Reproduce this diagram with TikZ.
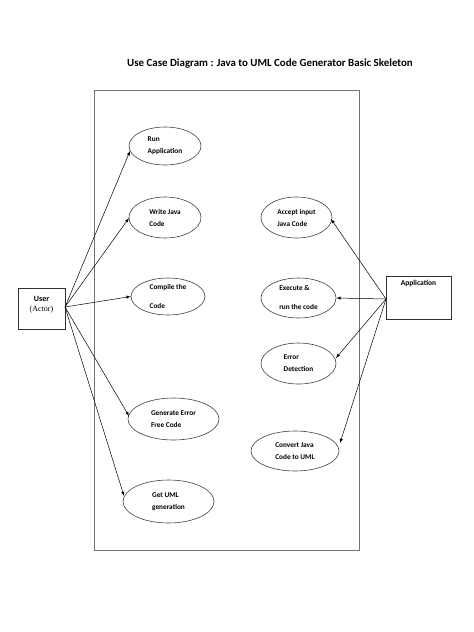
\documentclass[tikz,border=0pt]{standalone}
\usepackage{fontspec}
\setmainfont{Liberation Serif}
\newfontfamily\calfont{Carlito}
\usetikzlibrary{arrows,shapes.geometric,positioning}

\begin{document}
\begin{tikzpicture}[x=1pt,y=-1pt]

\tikzset{usecase/.style={draw=black!75, ellipse, line width=0.6pt, inner sep=0pt,
    align=left, font=\calfont\bfseries\fontsize{7.3}{12}\selectfont},
  actor/.style={draw=black!80, line width=0.8pt, inner sep=0pt},
  link/.style={-latex, line width=0.5pt}}

\useasboundingbox (0,0) rectangle (474,632);

% title and system boundary
\node (title) at (270,64) {\calfont\bfseries\fontsize{10.9}{12}\selectfont Use Case Diagram : Java to UML Code Generator Basic Skeleton};
\draw[black!55, line width=0.9pt] (94,90) rectangle (359,550);

% actors
\node[actor, minimum width=47, minimum height=41] (user) at (41.5,308.5) {};
\node[align=center, font=\fontsize{8}{10}\selectfont] at (41.5,305) {{\calfont\bfseries User}\\(Actor)};
\node[actor, minimum width=65, minimum height=43] (app) at (418.5,297.5) {};
\node[font=\calfont\bfseries\fontsize{7.5}{9}\selectfont, anchor=north] at (418.5,277) {Application};

% use cases of the user
\node[usecase, minimum width=72, minimum height=38] (run) at (165,146) {Run\\Application};
\node[usecase, minimum width=72, minimum height=41] (write) at (165,217.5) {Write Java\\Code};
\node[usecase, minimum width=74, minimum height=37] (compile) at (168,296.5) {Compile the\\[7pt]Code};
\node[usecase, minimum width=91, minimum height=42] (generate) at (173.5,419) {Generate Error\\Free Code};
\node[usecase, minimum width=91, minimum height=43] (uml) at (168.5,501.5) {Get UML\\generation};

% use cases of the application
\node[usecase, minimum width=71, minimum height=41] (accept) at (296.5,217.5) {Accept input\\Java Code};
\node[usecase, minimum width=75, minimum height=40] (execute) at (298.5,298) {Execute \&\\[7pt]run the code};
\node[usecase, minimum width=75, minimum height=41] (error) at (298.5,363.5) {Error\\Detection};
\node[usecase, minimum width=88, minimum height=40] (convert) at (295,451) {Convert Java\\Code to UML};

\coordinate (u) at (65,307);
\coordinate (a) at (386,299);

\draw[link] (u) -- (130,151);
\draw[link] (u) -- (129,218);
\draw[link] (u) -- (compile.west);
\draw[link] (u) -- (129,416);
\draw[link] (u) -- (124,496);

\draw[link] (a) -- (331,219);
\draw[link] (a) -- (execute.east);
\draw[link] (a) -- (336,358);
\draw[link] (a) -- (340,443);

\end{tikzpicture}
\end{document}
